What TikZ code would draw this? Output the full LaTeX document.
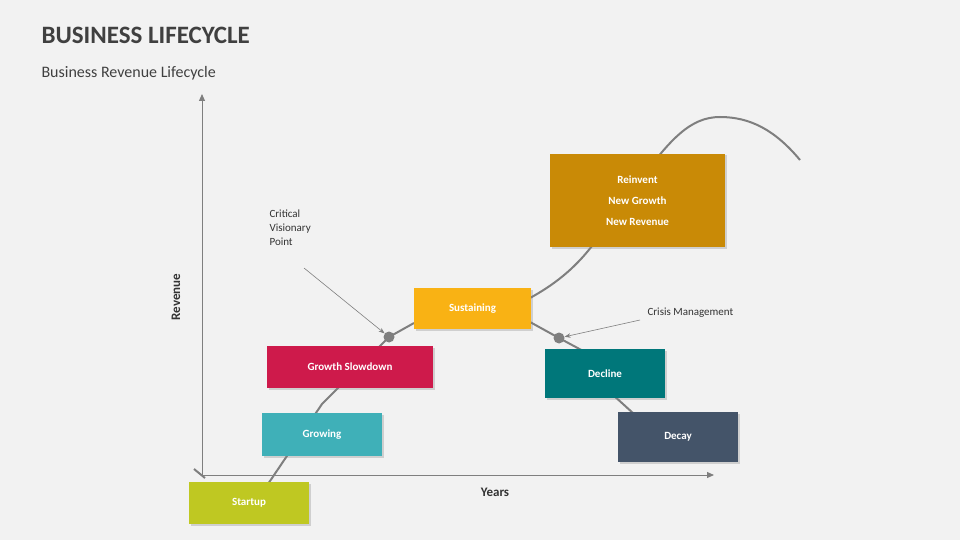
\documentclass[tikz,border=0pt]{standalone}
\usepackage{fontspec}
\setmainfont{Carlito}
\usetikzlibrary{arrows.meta,shadows}
\definecolor{bg}{HTML}{F2F2F2}
\definecolor{cStart}{HTML}{BFC822}
\definecolor{cGrow}{HTML}{3FB0B8}
\definecolor{cSlow}{HTML}{CE1A4B}
\definecolor{cSus}{HTML}{F9B214}
\definecolor{cRe}{HTML}{C98A06}
\definecolor{cDec}{HTML}{00777A}
\definecolor{cDecay}{HTML}{445469}
\definecolor{ln}{HTML}{7F7F7F}
\begin{document}
\begin{tikzpicture}[x=1pt,y=-1pt,
 box/.style={fill=#1,text=white,font=\bfseries\fontsize{11}{13}\selectfont,align=center,inner sep=0pt,drop shadow={shadow xshift=1.5pt,shadow yshift=-1.5pt,opacity=0.3}},
 curve/.style={draw=ln,line width=2pt},
 ax/.style={draw=ln,line width=1pt,-{Triangle[length=7pt,width=6pt]}},
 pt/.style={fill=ln,circle,inner sep=0pt,minimum size=11pt},
 note/.style={font=\fontsize{11}{14}\selectfont,text=black!80,align=left},
 arr/.style={draw=ln,line width=0.6pt,-{Stealth[length=6pt]}}]
\fill[bg] (0,0) rectangle (960,540);
\useasboundingbox (0,0) rectangle (960,540);
\node[anchor=west,font=\bfseries\fontsize{25}{28}\selectfont,text=black!75] (title) at (38,35) {BUSINESS LIFECYCLE};
\node[anchor=west,font=\fontsize{16}{19}\selectfont,text=black!75] (sub) at (38,73) {Business Revenue Lifecycle};
% axes
\coordinate (o) at (202,475);
\coordinate (yt) at (202,94);
\coordinate (xt) at (714,475);
\draw[ax] (o) -- (yt);
\draw[ax] (o) -- (xt);
\coordinate (c0) at (194,469);
\draw[curve] (c0) -- (205,478);
\node[rotate=90,font=\bfseries\fontsize{13}{15}\selectfont,text=black!80] (rev) at (176,297) {Revenue};
\node[font=\bfseries\fontsize{13}{15}\selectfont,text=black!80] (yrs) at (495,492) {Years};
% curve
\coordinate (a0) at (268,484);
\node[pt] (p1) at (389,337) {};
\coordinate (s1) at (414,323);
\draw[curve] (a0) -- (322,404) -- (p1.center) -- (s1);
\coordinate (s2) at (530,298);
\coordinate (pk) at (720,117);
\coordinate (e1) at (800,160);
\draw[curve] (s2) .. controls (590,265) and (600,230) .. (640,180) .. controls (670,140) and (690,117) .. (pk) .. controls (750,117) and (775,130) .. (e1);
\node[pt] (p2) at (559,338) {};
\coordinate (s3) at (530,322);
\coordinate (d1) at (585,352);
\draw[curve] (s3) -- (p2.center) -- (d1);
\coordinate (d2) at (612,394);
\coordinate (d3) at (634,414);
\draw[curve] (d2) -- (d3);
% boxes
\node[box=cStart,minimum width=120pt,minimum height=42pt] (startup) at (249,503) {Startup};
\node[box=cGrow,minimum width=120pt,minimum height=43pt] (growing) at (322,434.5) {Growing};
\node[box=cSlow,minimum width=166pt,minimum height=42pt] (slow) at (350,367) {Growth Slowdown};
\node[box=cSus,minimum width=117pt,minimum height=41pt] (sus) at (472.5,308.5) {Sustaining};
\node[box=cRe,minimum width=175pt,minimum height=93pt,font=\bfseries\fontsize{11}{21}\selectfont] (re) at (637.5,200.5) {Reinvent\\New Growth\\New Revenue};
\node[box=cDec,minimum width=120pt,minimum height=49pt] (dec) at (605,373.5) {Decline};
\node[box=cDecay,minimum width=120pt,minimum height=50pt] (decay) at (678,437) {Decay};
% notes
\node[note,anchor=north west] (cvp) at (266,206) {Critical\\Visionary\\Point};
\coordinate (cvpa) at (304,268);
\draw[arr] (cvpa) -- (p1);
\node[note,anchor=west] (cm) at (644,313) {Crisis Management};
\coordinate (cma) at (640,320);
\draw[arr] (cma) -- (p2);
\end{tikzpicture}
\end{document}
